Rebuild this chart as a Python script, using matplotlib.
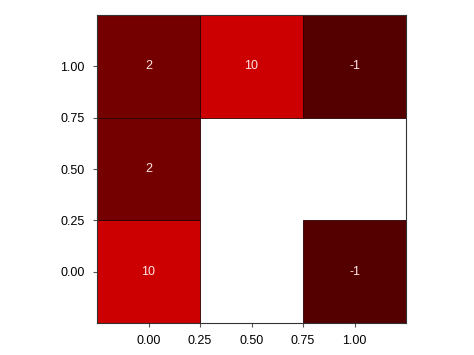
import numpy as np
import matplotlib.pyplot as plt
from matplotlib.colors import LinearSegmentedColormap, Normalize
from matplotlib.patches import Rectangle

plt.rcParams['font.family'] = ['Liberation Sans', 'DejaVu Sans']

x_centers = [0.0, 0.5, 1.0]
y_centers = [0.0, 0.5, 1.0]
# rows are y (bottom to top), columns are x; nan = empty cell
values = [
    [10, np.nan, -1],
    [2, np.nan, np.nan],
    [2, 10, -1],
]
ticks = [0.0, 0.25, 0.5, 0.75, 1.0]

step = 0.5
cmap = LinearSegmentedColormap.from_list('reds', ['#550000', '#cc0000'])
norm = Normalize(vmin=-1, vmax=10)

fig = plt.figure(figsize=(4.74, 3.55), dpi=100)
ax = fig.add_axes([97 / 474, 1 - 323 / 355, 309 / 474, 308 / 355])

for i, yv in enumerate(y_centers):
    for j, xv in enumerate(x_centers):
        v = values[i][j]
        if np.isnan(v):
            continue
        ax.add_patch(Rectangle((xv - step / 2, yv - step / 2), step, step,
                               facecolor=cmap(norm(v)), edgecolor='#2a0000',
                               linewidth=0.6))
        ax.text(xv, yv, f'{int(v)}', ha='center', va='center',
                color='#ffe6e6', fontsize=9)

ax.set_xlim(x_centers[0] - step / 2, x_centers[-1] + step / 2)
ax.set_ylim(y_centers[0] - step / 2, y_centers[-1] + step / 2)
ax.set_xticks(ticks)
ax.set_yticks(ticks)
ax.set_xticklabels([f'{t:.2f}' for t in ticks])
ax.set_yticklabels([f'{t:.2f}' for t in ticks])
ax.tick_params(length=3, width=0.8, color='#555555', labelsize=9, pad=6)
for s in ax.spines.values():
    s.set_color('#333333')
    s.set_linewidth(0.8)

fig.savefig('out.png', dpi=100)
